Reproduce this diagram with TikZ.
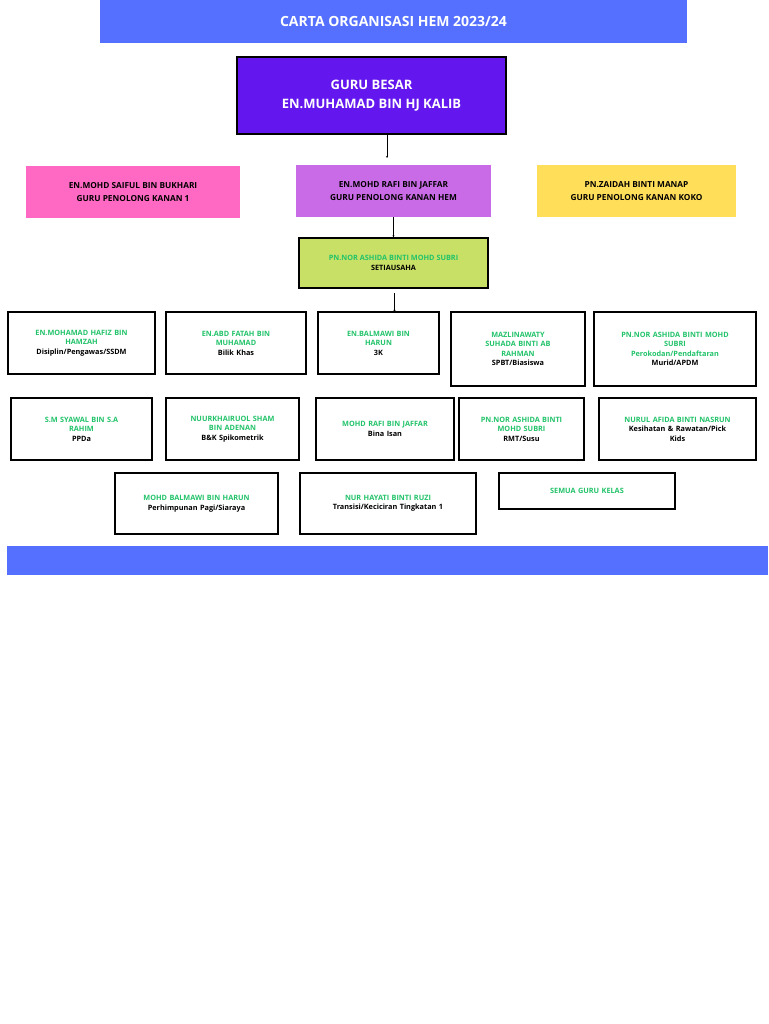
\documentclass[tikz,border=0pt]{standalone}
\usepackage{fontspec}
\setmainfont{Open Sans}
\usetikzlibrary{arrows.meta}
\begin{document}
\begin{tikzpicture}[x=1pt,y=-1pt,
 bx/.style={draw=black,line width=1.3pt,align=center,inner sep=1pt,font=\bfseries\fontsize{7.3}{9.5}\selectfont},
 cbx/.style={align=center,inner sep=1pt,font=\bfseries\fontsize{8.3}{13}\selectfont},
 arr/.style={-{Stealth[length=2pt,width=2pt]},line width=0.4pt}]
\definecolor{bluebar}{HTML}{5570FF}
\definecolor{gb}{HTML}{6316EE}
\definecolor{pinkc}{HTML}{FF69C4}
\definecolor{purc}{HTML}{C96BE6}
\definecolor{yelc}{HTML}{FFDE5A}
\definecolor{grnc}{HTML}{C9E066}
\definecolor{gtxt}{HTML}{22C36A}
\useasboundingbox (0,0) rectangle (768,1024);
\fill[white] (0,0) rectangle (768,1024);
\node[fill=bluebar,minimum width=587,minimum height=43,text=white,font=\bfseries\fontsize{14}{16}\selectfont] (title) at (393.5,21.5) {CARTA ORGANISASI HEM 2023/24};
\node[bx,fill=gb,minimum width=269,minimum height=77,text=white,font=\bfseries\fontsize{13}{19}\selectfont] (gb) at (371.5,95.5) {GURU BESAR\\EN.MUHAMAD BIN HJ KALIB};
\node[cbx,fill=pinkc,minimum width=214,minimum height=52] (p1) at (133,192) {EN.MOHD SAIFUL BIN BUKHARI\\GURU PENOLONG KANAN 1};
\node[cbx,fill=purc,minimum width=195,minimum height=52] (p2) at (393.5,191) {EN.MOHD RAFI BIN JAFFAR\\GURU PENOLONG KANAN HEM};
\node[cbx,fill=yelc,minimum width=199,minimum height=52] (p3) at (636.5,191) {PN.ZAIDAH BINTI MANAP\\GURU PENOLONG KANAN KOKO};
\node[bx,fill=grnc,minimum width=189,minimum height=50] (sec) at (393.5,263) {\textcolor{gtxt}{PN.NOR ASHIDA BINTI MOHD SUBRI}\\SETIAUSAHA};
\coordinate (a1) at (387,158);
\draw[arr] (gb.south -| a1) -- (a1);
\draw[arr] (p2.south -| sec.north) -- (sec.north);
\coordinate (a3) at (394.5,312);
\draw[arr] (394.5,293) -- (a3);
% row 1
\node[bx,minimum width=147,minimum height=62,text width=130] (r11) at (81.5,343) {\textcolor{gtxt}{EN.MOHAMAD HAFIZ BIN\\HAMZAH}\\Disiplin/Pengawas/SSDM};
\node[bx,minimum width=140,minimum height=62,text width=125] (r12) at (236,343) {\textcolor{gtxt}{EN.ABD FATAH BIN\\MUHAMAD}\\Bilik Khas};
\node[bx,minimum width=121,minimum height=62,text width=110] (r13) at (378.5,343) {\textcolor{gtxt}{EN.BALMAWI BIN\\HARUN}\\3K};
\node[bx,minimum width=134,minimum height=74,text width=120] (r14) at (518,349) {\textcolor{gtxt}{MAZLINAWATY\\SUHADA BINTI AB\\RAHMAN}\\SPBT/Biasiswa};
\node[bx,minimum width=162,minimum height=74,text width=150] (r15) at (675,349) {\textcolor{gtxt}{PN.NOR ASHIDA BINTI MOHD\\SUBRI\\Perokodan/Pendaftaran}\\Murid/APDM};
% row 2
\node[bx,minimum width=141,minimum height=62,text width=128] (r21) at (81.5,429) {\textcolor{gtxt}{S.M SYAWAL BIN S.A\\RAHIM}\\PPDa};
\node[bx,minimum width=133,minimum height=62,text width=120] (r22) at (232.5,429) {\textcolor{gtxt}{NUURKHAIRUOL SHAM\\BIN ADENAN}\\B\&K Spikometrik};
\node[bx,minimum width=138,minimum height=62,text width=125] (r23) at (385,429) {\textcolor{gtxt}{MOHD RAFI BIN JAFFAR}\\Bina Isan};
\node[bx,minimum width=125,minimum height=62,text width=115] (r24) at (521.5,429) {\textcolor{gtxt}{PN.NOR ASHIDA BINTI\\MOHD SUBRI}\\RMT/Susu};
\node[bx,minimum width=157,minimum height=62,text width=145] (r25) at (677.5,429) {\textcolor{gtxt}{NURUL AFIDA BINTI NASRUN}\\Kesihatan \& Rawatan/Pick\\Kids};
% row 3
\node[bx,minimum width=163,minimum height=61,text width=150] (r31) at (196.5,503.5) {\textcolor{gtxt}{MOHD BALMAWI BIN HARUN}\\Perhimpunan Pagi/Siaraya};
\node[bx,minimum width=176,minimum height=61,text width=165] (r32) at (388,503.5) {\textcolor{gtxt}{NUR HAYATI BINTI RUZI}\\Transisi/Keciciran Tingkatan 1};
\node[bx,minimum width=176,minimum height=36,text width=165] (r33) at (587,491) {\textcolor{gtxt}{SEMUA GURU KELAS}};
\fill[bluebar] (7,546) rectangle (768,575);
\end{tikzpicture}
\end{document}
